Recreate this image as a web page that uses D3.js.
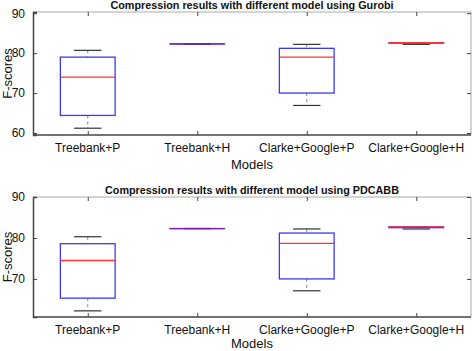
<!DOCTYPE html>
<html>
<head>
<meta charset="utf-8">
<script src="https://cdn.jsdelivr.net/npm/d3@7"></script>
<style>
  body { margin: 0; background: #fff; }
  svg { display: block; font-family: "Liberation Sans", Arial, sans-serif; }
</style>
</head>
<body>
<div id="chart"></div>
<script>
// --- Data ---
const models = ["Treebank+P", "Treebank+H", "Clarke+Google+P", "Clarke+Google+H"];
// [lower whisker, q1, median, q3, upper whisker]
const gurobiStats = [
  [61.2, 64.4, 74.0, 79.0, 80.7],
  [82.3, 82.3, 82.3, 82.3, 82.3],
  [66.9, 70.0, 79.0, 81.2, 82.2],
  [82.2, 82.5, 82.6, 82.6, 82.6]
];
const pdcabbStats = [
  [62.2, 65.3, 74.5, 78.6, 80.3],
  [82.3, 82.3, 82.3, 82.3, 82.3],
  [67.1, 70.0, 78.7, 81.2, 82.2],
  [82.2, 82.5, 82.7, 82.7, 82.7]
];
const gurobiTicks = [60, 70, 80, 90];
const pdcabbTicks = [70, 80, 90];

const W = 474, H = 351;
const svg = d3.select("#chart").append("svg")
  .attr("width", W).attr("height", H);

const panels = [
  { title: "Compression results with different model using Gurobi",
    stats: gurobiStats, ticks: gurobiTicks, domain: [59.5, 90.3],
    top: 12, bottom: 135, titleY: 8.5, tickLabelY: 152, xlabelY: 169 },
  { title: "Compression results with different model using PDCABB",
    stats: pdcabbStats, ticks: pdcabbTicks, domain: [60.7, 90],
    top: 197, bottom: 317, titleY: 194, tickLabelY: 333.5, xlabelY: 348 }
];

const left = 33, right = 471;

panels.forEach(p => {
  const g = svg.append("g");

  const x = d3.scalePoint().domain(models).range([left, right]).padding(0.5);
  const y = d3.scaleLinear().domain(p.domain).range([p.bottom, p.top]);
  const boxW = x.step() * 0.5;
  const capW = x.step() * 0.25;

  // frame: top and right lighter
  g.append("line").attr("x1", left).attr("x2", right).attr("y1", p.top).attr("y2", p.top)
    .attr("stroke", "#aaa");
  g.append("line").attr("x1", right).attr("x2", right).attr("y1", p.top).attr("y2", p.bottom)
    .attr("stroke", "#aaa");

  // ticks on top / right (inward)
  g.append("g").attr("transform", `translate(0,${p.top})`)
    .call(d3.axisTop(x).tickSize(-4).tickFormat(""))
    .call(a => a.select(".domain").remove())
    .selectAll("line").attr("stroke", "#444");
  g.append("g").attr("transform", `translate(${right},0)`)
    .call(d3.axisRight(y).tickValues(p.ticks).tickSize(-4).tickFormat(""))
    .call(a => a.select(".domain").remove())
    .selectAll("line").attr("stroke", "#444");

  // boxes
  p.stats.forEach((s, i) => {
    const cx = x(models[i]);
    const [lo, q1, med, q3, hi] = s;
    // whiskers (dashed)
    g.append("line").attr("x1", cx).attr("x2", cx).attr("y1", y(hi)).attr("y2", y(q3))
      .attr("stroke", "#888").attr("stroke-dasharray", "3,3");
    g.append("line").attr("x1", cx).attr("x2", cx).attr("y1", y(q1)).attr("y2", y(lo))
      .attr("stroke", "#888").attr("stroke-dasharray", "3,3");
    // caps
    [lo, hi].forEach(v => {
      g.append("line").attr("x1", cx - capW / 2).attr("x2", cx + capW / 2)
        .attr("y1", y(v)).attr("y2", y(v)).attr("stroke", "#333").attr("stroke-width", 1.2);
    });
    // box
    g.append("rect").attr("x", cx - boxW / 2).attr("width", boxW)
      .attr("y", y(q3)).attr("height", Math.max(y(q1) - y(q3), 0.01))
      .attr("fill", "none").attr("stroke", "#3a3aee").attr("stroke-width", 1.3);
    // median
    g.append("line").attr("x1", cx - boxW / 2).attr("x2", cx + boxW / 2)
      .attr("y1", y(med)).attr("y2", y(med))
      .attr("stroke", med === q1 && med === q3 ? "#7a1fb0" : "#ff3333").attr("stroke-width", 1.3);
  });

  // left axis
  const ya = g.append("g").attr("transform", `translate(${left},0)`)
    .call(d3.axisLeft(y).tickValues(p.ticks).tickSize(-4).tickPadding(8));
  ya.select(".domain").attr("stroke", "#444").attr("stroke-width", 1.5);
  ya.selectAll("line").attr("stroke", "#444");
  ya.selectAll("text").attr("font-size", 12).attr("fill", "#111");
  ya.attr("font-family", null);

  // bottom axis
  const xa = g.append("g").attr("transform", `translate(0,${p.bottom})`)
    .call(d3.axisBottom(x).tickSize(-4).tickFormat(""));
  xa.select(".domain").attr("stroke", "#444").attr("stroke-width", 1.5)
    .attr("d", `M${left},0H${right}`);
  xa.selectAll("line").attr("stroke", "#444");

  // x tick labels
  g.selectAll(".xl").data(models).enter().append("text")
    .attr("x", d => x(d)).attr("y", p.tickLabelY)
    .attr("text-anchor", "middle").attr("font-size", 12).attr("fill", "#111")
    .text(d => d);

  // titles / labels
  g.append("text").attr("x", (left + right) / 2).attr("y", p.titleY)
    .attr("text-anchor", "middle").attr("font-size", 10.8).attr("font-weight", "bold")
    .attr("fill", "#111").text(p.title);
  g.append("text").attr("x", (left + right) / 2).attr("y", p.xlabelY)
    .attr("text-anchor", "middle").attr("font-size", 13).attr("fill", "#111").text("Models");
  g.append("text")
    .attr("transform", `translate(12,${(p.top + p.bottom) / 2}) rotate(-90)`)
    .attr("text-anchor", "middle").attr("font-size", 13).attr("fill", "#111").text("F-scores");
});
</script>
</body>
</html>
